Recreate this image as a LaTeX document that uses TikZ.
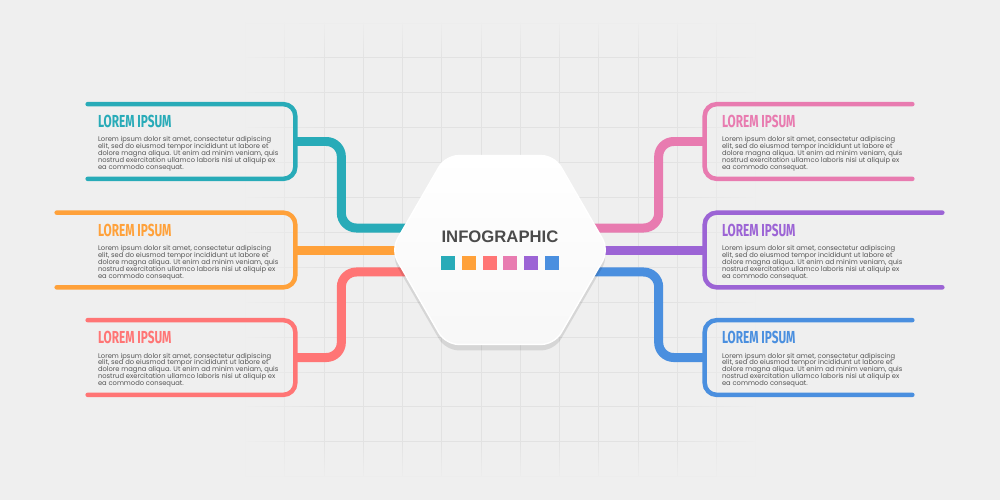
\documentclass[tikz,border=0pt]{standalone}
\usepackage{fontspec}
\usepackage{xcolor}
\usetikzlibrary{positioning, shapes.geometric, shadows, fadings}
\newfontfamily\bodyfont{Poppins}
\newfontfamily\titlefont[FakeStretch=0.68]{Fira Sans}
\newfontfamily\headfont{Liberation Sans}
\definecolor{bgc}{HTML}{EFEFEF}
\definecolor{gridc}{HTML}{E2E2E2}
\definecolor{bodyc}{HTML}{555555}
\definecolor{headc}{HTML}{4B4B4B}
\definecolor{cteal}{HTML}{28ABB8}
\definecolor{corange}{HTML}{FFA13A}
\definecolor{cred}{HTML}{FF7575}
\definecolor{cpink}{HTML}{E87BB0}
\definecolor{cpurple}{HTML}{9C64D5}
\definecolor{cblue}{HTML}{4A8FDF}
\tikzfading[name=fadel, left color=transparent!0, right color=transparent!100]
\tikzfading[name=fader, left color=transparent!100, right color=transparent!0]
\tikzfading[name=fadet, top color=transparent!0, bottom color=transparent!100]
\tikzfading[name=fadeb, top color=transparent!100, bottom color=transparent!0]
\newcommand{\loremtext}{Lorem ipsum dolor sit amet, consectetur adipiscing\\
elit, sed do eiusmod tempor incididunt ut labore et\\
dolore magna aliqua. Ut enim ad minim veniam, quis\\
nostrud exercitation ullamco laboris nisi ut aliquip ex\\
ea commodo consequat.}

\begin{document}
\begin{tikzpicture}[x=0.02cm, y=-0.02cm,
    frame/.style={line width=0.9mm, line cap=round, rounded corners=2.4mm},
    conn/.style={line width=1.8mm, rounded corners=3mm},
    card/.style={minimum width=4.14cm, minimum height=1.48cm, inner sep=0},
    ttl/.style={font=\titlefont\bfseries\fontsize{9.9pt}{10pt}\selectfont, inner sep=0, text=#1},
    txt/.style={font=\bodyfont\fontsize{3.85pt}{3.98pt}\selectfont, align=left, inner sep=0, text=bodyc}]
    \fill[bgc] (0,0) rectangle (1000,500);
    \foreach \k in {0,...,13}
        \draw[gridc, line width=0.5pt]
        (245.5+39.25*\k,23) -- ++(0,454)
        (245.5,23+34.9*\k) -- (755.75,23+34.9*\k);
    \fill[bgc, path fading=fadel] (240,0) rectangle (335,500);
    \fill[bgc, path fading=fader] (665,0) rectangle (760,500);
    \fill[bgc, path fading=fadet] (240,18) rectangle (760,60);
    \fill[bgc, path fading=fadeb] (240,440) rectangle (760,482);

    \coordinate (hc) at (500,250);

    \node[card] (c1) at (191.5,141.5) {};
    \node[card] (c2) at (191.5,250) {};
    \node[card] (c3) at (191.5,357.5) {};
    \node[card] (c4) at (808.5,141.5) {};
    \node[card] (c5) at (808.5,250) {};
    \node[card] (c6) at (808.5,357.5) {};

    \draw[conn, cteal] (c1.east) -- ++(46,0) |- ([yshift=4.4mm]hc);
    \draw[conn, corange] (c2.east) -- (hc);
    \draw[conn, cred] (c3.east) -- ++(46,0) |- ([yshift=-4.4mm]hc);
    \draw[conn, cpink] (c4.west) -- ++(-46,0) |- ([yshift=4.4mm]hc);
    \draw[conn, cpurple] (c5.west) -- (hc);
    \draw[conn, cblue] (c6.west) -- ++(-46,0) |- ([yshift=-4.4mm]hc);

    \draw[frame, cteal] (c1.north west) -- (c1.north east) -- (c1.south east) -- (c1.south west);
    \draw[frame, corange] ([xshift=-6.2mm]c2.north west) -- (c2.north east) -- (c2.south east) -- ([xshift=-6.2mm]c2.south west);
    \draw[frame, cred] (c3.north west) -- (c3.north east) -- (c3.south east) -- (c3.south west);
    \draw[frame, cpink] (c4.north east) -- (c4.north west) -- (c4.south west) -- (c4.south east);
    \draw[frame, cpurple] ([xshift=6mm]c5.north east) -- (c5.north west) -- (c5.south west) -- ([xshift=6mm]c5.south east);
    \draw[frame, cblue] (c6.north east) -- (c6.north west) -- (c6.south west) -- (c6.south east);

    \node[ttl=cteal, below right=2.2mm and 2mm of c1.north west] (t1) {LOREM IPSUM};
    \node[ttl=corange, below right=2.2mm and 2mm of c2.north west] (t2) {LOREM IPSUM};
    \node[ttl=cred, below right=2.2mm and 2mm of c3.north west] (t3) {LOREM IPSUM};
    \node[ttl=cpink, below right=2.2mm and 3.4mm of c4.north west] (t4) {LOREM IPSUM};
    \node[ttl=cpurple, below right=2.2mm and 3.4mm of c5.north west] (t5) {LOREM IPSUM};
    \node[ttl=cblue, below right=2.2mm and 3.4mm of c6.north west] (t6) {LOREM IPSUM};

    \foreach \i in {1,...,6}
        \node[txt, below right=1.6mm and 0mm of t\i.south west] (b\i) {\loremtext};

    \node[regular polygon, regular polygon sides=6, minimum size=4.36cm, inner sep=0,
        rounded corners=2.6mm, top color=white, bottom color=black!3, draw=white, line width=0.8pt,
        drop shadow={shadow xshift=0mm, shadow yshift=-1.2mm, fill=black, opacity=0.1}] (hex) at (hc) {};
    \node[font=\headfont\bfseries\fontsize{9.5pt}{10pt}\selectfont, text=headc] (info) at (500,237) {INFOGRAPHIC};
    \foreach \c [count=\i] in {cteal,corange,cred,cpink,cpurple,cblue}
        \node[fill=\c, minimum size=2.8mm, inner sep=0] (sq\i) at (500+20.8*\i-72.8,263) {};
\end{tikzpicture}
\end{document}
